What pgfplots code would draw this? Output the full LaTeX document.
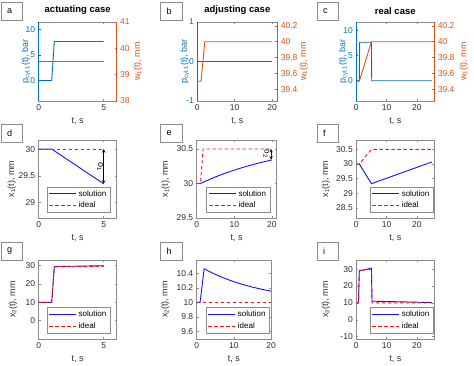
\documentclass[border=0pt]{standalone}
\usepackage{pgfplots}
\pgfplotsset{compat=1.18}
\usepackage{fontspec}
\setmainfont{Liberation Sans}
\definecolor{mblue}{RGB}{0,114,189}
\definecolor{morange}{RGB}{217,83,25}
\definecolor{axgray}{RGB}{140,140,140}
\definecolor{txtgray}{RGB}{45,45,45}
\definecolor{solblue}{RGB}{20,20,235}
\definecolor{idred}{RGB}{245,20,20}
\pgfplotsset{
  every axis y label/.style={rotate=90, anchor=center},
  base/.style={
    scale only axis, anchor=south west, clip=false,
    axis line style={draw=axgray, line width=0.6pt},
    tick align=inside, major tick length=2pt,
    tick style={draw=axgray, line width=0.5pt},
    tick label style={font=\fontsize{8.5}{10}\selectfont, text=txtgray},
    label style={font=\fontsize{9}{10}\selectfont, text=txtgray},
    /pgf/number format/assume math mode=true,
    xlabel={t, s},
    xlabel style={at={(axis description cs:0.5,0)}, anchor=base, yshift=-23pt},
    title style={font=\bfseries\fontsize{9.5}{11}\selectfont, text=black, yshift=-2pt},
    legend style={at={(0.92,0.07)}, anchor=south east, draw=axgray, fill=white,
       font=\fontsize{8}{9}\selectfont, inner xsep=2pt, inner ysep=1.5pt, row sep=0pt},
    legend cell align=left,
    legend image code/.code={\draw[##1] (0pt,0pt) -- (27pt,0pt);},
  },
  left1/.style={base, ytick pos=left, yticklabel style={text=mblue}, y tick style={draw=mblue},
    ylabel style={text=mblue}},
  right1/.style={base, hide x axis, axis line style={draw=none}, ytick pos=right,
    yticklabel style={text=morange}, y tick style={draw=morange}, ylabel style={text=morange}},
  sol/.style={color=solblue, line width=0.9pt},
  ideal/.style={color=idred, line width=0.9pt, dash pattern=on 3.5pt off 2.5pt},
  lft/.style={color=mblue, line width=0.9pt},
  rgt/.style={color=morange, line width=0.9pt},
}
\newcommand\pl[3]{\draw[draw=axgray,fill=white,line width=0.6pt] (#1pt,#2pt) rectangle ++(21.5pt,-18pt);
  \node[anchor=west, font=\fontsize{9}{10}\selectfont, inner sep=0pt] at (#1pt+6pt,#2pt-9pt) {#3};}
\newcommand\spines{\draw[mblue,line width=0.6pt] (rel axis cs:0,0)--(rel axis cs:0,1);
  \draw[morange,line width=0.6pt] (rel axis cs:1,0)--(rel axis cs:1,1);}
\begin{document}
\begin{tikzpicture}
\path[use as bounding box] (0,0) rectangle (474pt,366pt);
% ---------------- row 1 ----------------
% a
\begin{axis}[left1, at={(38.7pt,265pt)}, width=78pt, height=79pt,
  xmin=0, xmax=6, xtick={0,5}, ymin=-4, ymax=11.4, ytick={0,5,10},
  ylabel={p\textsubscript{cyl,1}(t), bar}, ylabel style={at={(axis description cs:-0.16,0.5)}},
  title={actuating case}]
\addplot[lft] coordinates {(0,0)(1,0)(1.2,7.6)(5,7.6)};
\spines
\end{axis}
\begin{axis}[right1, at={(38.7pt,265pt)}, width=78pt, height=79pt,
  xmin=0, xmax=6, ymin=38, ymax=41, ytick={38,39,40,41},
  ylabel={w\textsubscript{1}(t), mm}, ylabel style={at={(axis description cs:1.27,0.5)}}]
\addplot[rgt] coordinates {(0,39.5)(5,39.5)};
\end{axis}
% b
\begin{axis}[left1, at={(197.3pt,265pt)}, width=80pt, height=79pt,
  xmin=0, xmax=21.4, xtick={0,10,20}, ymin=-1, ymax=1, ytick={-1,0,1},
  ylabel={p\textsubscript{cyl,1}(t), bar}, ylabel style={at={(axis description cs:-0.155,0.5)}},
  title={adjusting case}]
\addplot[lft] coordinates {(0,0)(20,0)};
\spines
\end{axis}
\begin{axis}[right1, at={(197.3pt,265pt)}, width=80pt, height=79pt,
  xmin=0, xmax=21.4, ymin=39.25, ymax=40.25, ytick={39.4,39.6,39.8,40,40.2},
  ylabel={w\textsubscript{1}(t), mm}, ylabel style={at={(axis description cs:1.33,0.5)}}]
\addplot[rgt] coordinates {(0,39.5)(1,39.5)(2,40)(20,40)};
\end{axis}
% c
\begin{axis}[left1, at={(356.3pt,265pt)}, width=78pt, height=79pt,
  xmin=0, xmax=25.8, xtick={0,10,20}, ymin=-4, ymax=11.6, ytick={0,5,10},
  ylabel={p\textsubscript{cyl,1}(t), bar}, ylabel style={at={(axis description cs:-0.165,0.5)}},
  title={real case}]
\addplot[lft] coordinates {(0,0)(1,0)(1.1,7.6)(5,7.6)(5.1,0)(25,0)};
\spines
\end{axis}
\begin{axis}[right1, at={(356.3pt,265pt)}, width=78pt, height=79pt,
  xmin=0, xmax=25.8, ymin=39.25, ymax=40.25, ytick={39.4,39.6,39.8,40,40.2},
  ylabel={w\textsubscript{1}(t), mm}, ylabel style={at={(axis description cs:1.38,0.5)}}]
\addplot[rgt] coordinates {(0,39.5)(1,39.5)(5,40)(25,40)};
\end{axis}
% ---------------- row 2 ----------------
% d
\begin{axis}[base, at={(38.7pt,148pt)}, width=78pt, height=78pt,
  xmin=0, xmax=6, xtick={0,5}, ymin=28.71, ymax=30.17, ytick={29,29.5,30},
  ylabel={x\textsubscript{1}(t), mm}, ylabel style={at={(axis description cs:-0.345,0.5)}}]
\addplot[sol] coordinates {(0,30)(1,30)(5,29.35)};
\addplot[ideal] coordinates {(0,30)(5,30)};
\legend{solution, ideal}
\draw[<->, >=stealth, line width=0.6pt] (axis cs:5,30) -- (axis cs:5,29.35);
\node[rotate=-90, font=\fontsize{9}{10}\selectfont] at (axis cs:4.72,29.66) {o\textsubscript{1}};
\end{axis}
% e
\begin{axis}[base, at={(196.7pt,148pt)}, width=80pt, height=78pt,
  xmin=0, xmax=21.3, xtick={0,10,20}, ymin=29.5, ymax=30.63, ytick={29.5,30,30.5},
  ylabel={x\textsubscript{1}(t), mm}, ylabel style={at={(axis description cs:-0.39,0.5)}}]
\addplot[sol] coordinates {(0,30)(1,30)(2,30.025)(3,30.049)(4,30.072)(5,30.095)(6,30.116)
  (7,30.137)(8,30.156)(9,30.175)(10,30.193)(11,30.211)(12,30.228)(13,30.244)(14,30.260)
  (15,30.274)(16,30.289)(17,30.303)(18,30.316)(19,30.328)(20,30.341)};
\addplot[ideal] coordinates {(0,30)(1,30)(1.7,30.5)(20,30.5)};
\legend{solution, ideal}
\draw[<->, >=stealth, line width=0.5pt] (axis cs:19.8,30.5) -- (axis cs:19.8,30.345);
\node[rotate=-90, font=\fontsize{8}{9}\selectfont] at (axis cs:18.5,30.43) {o\textsubscript{2}};
\end{axis}
% f
\begin{axis}[base, at={(356.3pt,148pt)}, width=78pt, height=78pt,
  xmin=0, xmax=25.8, xtick={0,10,20}, ymin=28.16, ymax=30.82, ytick={28.5,29,29.5,30,30.5},
  ylabel={x\textsubscript{1}(t), mm}, ylabel style={at={(axis description cs:-0.39,0.5)}},
  legend style={at={(0.99,0.07)}}]
\addplot[sol] coordinates {(0,30)(1,30)(5,29.33)(25,30.07)};
\addplot[ideal] coordinates {(0,30)(1,30)(5,30.5)(25,30.5)};
\legend{solution, ideal}
\end{axis}
% ---------------- row 3 ----------------
% g
\begin{axis}[base, at={(38.7pt,27pt)}, width=78pt, height=79pt,
  xmin=0, xmax=6, xtick={0,5}, ymin=-10, ymax=33.1, ytick={0,10,20,30},
  ylabel={x\textsubscript{2}(t), mm}, ylabel style={at={(axis description cs:-0.33,0.5)}}]
\addplot[sol] coordinates {(0,10)(1,10)(1.2,29.5)(5,30)};
\addplot[ideal] coordinates {(0,10)(1,10)(1.2,29.5)(5,29.6)};
\legend{solution, ideal}
\end{axis}
% h
\begin{axis}[base, at={(196.7pt,27pt)}, width=74.5pt, height=79pt,
  xmin=0, xmax=20, xtick={0,10,20}, ymin=9.5, ymax=10.58, ytick={9.6,9.8,10,10.2,10.4},
  ylabel={x\textsubscript{2}(t), mm}, ylabel style={at={(axis description cs:-0.42,0.5)}},
  legend style={at={(0.98,0.07)}}]
\addplot[sol] coordinates {(0,10)(0.9,10)(2,10.46)(3,10.433)(4,10.407)(5,10.384)(6,10.361)
  (7,10.340)(8,10.320)(9,10.301)(10,10.283)(11,10.267)(12,10.251)(13,10.236)(14,10.222)
  (15,10.209)(16,10.197)(17,10.185)(18,10.174)(19,10.164)(20,10.154)};
\addplot[ideal] coordinates {(0,10)(20,10)};
\legend{solution, ideal}
\end{axis}
% i
\begin{axis}[base, at={(356.3pt,27pt)}, width=78pt, height=79pt,
  xmin=0, xmax=25.8, xtick={0,10,20}, ymin=-11.4, ymax=35.4, ytick={-10,0,10,20,30},
  ylabel={x\textsubscript{2}(t), mm}, ylabel style={at={(axis description cs:-0.39,0.5)}},
  legend style={at={(0.99,0.07)}}]
\addplot[sol] coordinates {(0,10)(0.7,10)(1,29)(5,30.5)(5.2,11)(25,10.2)};
\addplot[ideal] coordinates {(0,10)(0.7,10)(1,29)(5,30)(5.2,10)(25,10)};
\legend{solution, ideal}
\end{axis}
% panel letters
\pl{1}{364}{a}
\pl{160.5}{364}{b}
\pl{317}{364}{c}
\pl{1}{242}{d}
\pl{160.5}{242}{e}
\pl{317}{242}{f}
\pl{1}{124}{g}
\pl{160.5}{124}{h}
\pl{317}{124}{i}
\end{tikzpicture}
\end{document}
